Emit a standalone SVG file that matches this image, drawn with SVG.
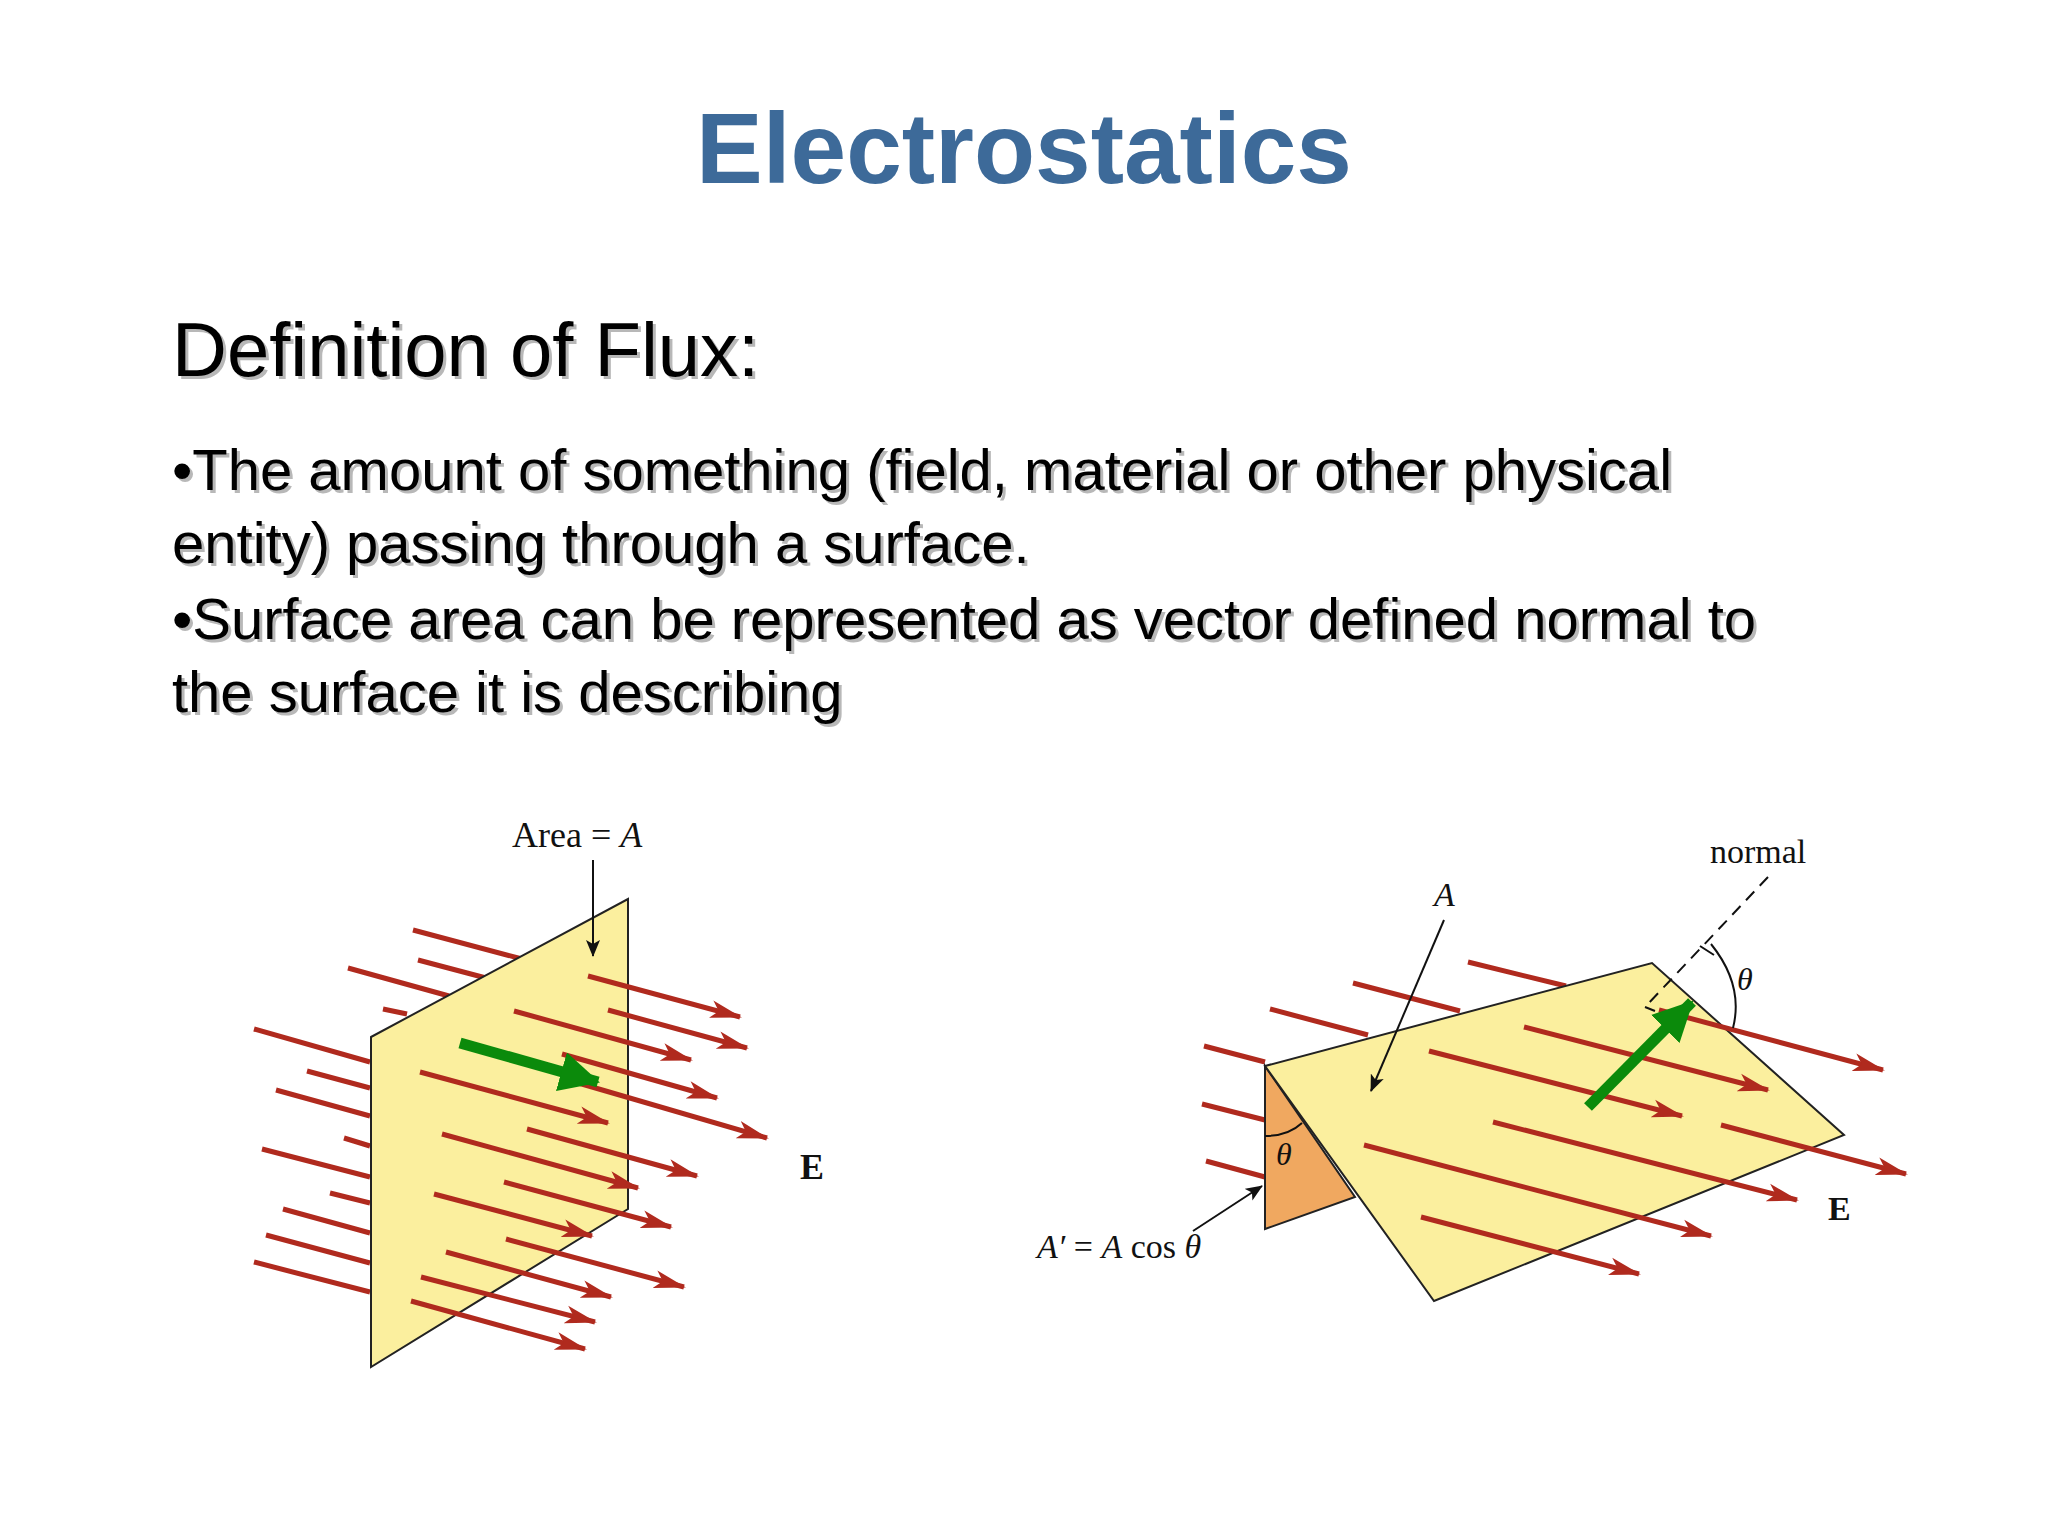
<svg xmlns="http://www.w3.org/2000/svg" width="2048" height="1536" viewBox="0 0 2048 1536">
<style>
.t{font-family:"Liberation Sans",Arial,sans-serif;fill:#000}
.sh{font-family:"Liberation Sans",Arial,sans-serif;fill:#b8b8b8}
.s{font-family:"Liberation Serif","Times New Roman",serif;fill:#111}
.r{stroke:#b02a1e;stroke-width:5;fill:none}
.ra{stroke:#b02a1e;stroke-width:5;fill:none;marker-end:url(#rh)}
.k{stroke:#111;stroke-width:2;fill:none}
.ka{stroke:#111;stroke-width:2;fill:none;marker-end:url(#kh)}
.g{stroke:#0b8a0b;stroke-width:11;fill:none;marker-end:url(#gh)}
.pl{fill:#fbef9e;stroke:#222;stroke-width:2}
</style>
<defs>
<marker id="rh" markerUnits="userSpaceOnUse" markerWidth="34" markerHeight="20" refX="30" refY="10" orient="auto"><path d="M0,1 L32,10 L0,19 L8,10 Z" fill="#b02a1e"/></marker>
<marker id="kh" markerUnits="userSpaceOnUse" markerWidth="18" markerHeight="14" refX="16" refY="7" orient="auto"><path d="M0,0 L17,7 L0,14 L4,7 Z" fill="#111"/></marker>
<marker id="gh" markerUnits="userSpaceOnUse" markerWidth="44" markerHeight="40" refX="38" refY="20" orient="auto"><path d="M0,0 L40,20 L0,40 Z" fill="#0b8a0b"/></marker>
</defs>
<rect width="2048" height="1536" fill="#fff"/>
<g id="title"><text x="1024" y="183" text-anchor="middle" font-family="Liberation Sans,Arial,sans-serif" font-weight="bold" font-size="100" fill="#3d6a99">Electrostatics</text></g>
<g id="text">
<text class="sh" x="175" y="379" font-size="76">Definition of Flux:</text>
<text class="t" x="172" y="376" font-size="76">Definition of Flux:</text>
<g font-size="58">
<text class="sh" x="175" y="493">•The amount of something (field, material or other physical</text>
<text class="sh" x="175" y="566">entity) passing through a surface.</text>
<text class="sh" x="175" y="642">•Surface area can be represented as vector defined normal to</text>
<text class="sh" x="175" y="715">the surface it is describing</text>
<text class="t" x="172" y="490">•The amount of something (field, material or other physical</text>
<text class="t" x="172" y="563">entity) passing through a surface.</text>
<text class="t" x="172" y="639">•Surface area can be represented as vector defined normal to</text>
<text class="t" x="172" y="712">the surface it is describing</text>
</g>
</g>
<g id="left-back">
<path class="r" d="M413,930L522,959M418,960L486,978M348,968L449,996M383,1009L407,1014M254,1029L370,1062M307,1071L370,1088M276,1090L370,1116M344,1138L370,1146M262,1149L370,1177M330,1193L370,1203M283,1209L370,1233M266,1235L370,1263M254,1262L370,1292"/>
</g>
<g id="left-plane"><polygon class="pl" points="371,1037 628,899 628,1209 371,1367"/></g>
<g id="left-front">
<path class="ra" d="M588,976L740,1017"/><path class="ra" d="M608,1010L747,1048"/><path class="ra" d="M514,1011L691,1060"/><path class="ra" d="M562,1054L717,1098"/><path class="ra" d="M420,1072L608,1123"/><path class="ra" d="M568,1080L767,1138"/><path class="ra" d="M442,1134L638,1188"/><path class="ra" d="M527,1129L697,1176"/><path class="ra" d="M504,1182L671,1227"/><path class="ra" d="M434,1194L592,1236"/><path class="ra" d="M506,1239L684,1287"/><path class="ra" d="M446,1252L611,1297"/><path class="ra" d="M421,1277L595,1322"/><path class="ra" d="M411,1301L585,1349"/>
<path class="g" d="M460,1043L598,1082"/>
<path class="ka" d="M593,860L593,956"/>
<text class="s" x="512" y="847" font-size="36">Area = <tspan font-style="italic">A</tspan></text>
<text class="s" x="800" y="1179" font-size="36" font-weight="bold">E</text>
</g>
<g id="right-back">
<path class="r" d="M1468,962L1566,986M1353,983L1460,1011M1270,1009L1368,1035M1204,1046L1265,1062M1202,1104L1265,1120M1206,1161L1265,1177"/>
</g>
<g id="right-shapes">
<polygon points="1265,1066 1265,1229 1355,1197" fill="#f0a860" stroke="#222" stroke-width="2"/>
<polygon class="pl" points="1265,1066 1652,963 1844,1135 1434,1301"/>
<path class="k" d="M1265,1136Q1288,1136 1302,1123"/>
<text class="s" x="1276" y="1165" font-size="32" font-style="italic">θ</text>
</g>
<g id="right-front">
<path class="ra" d="M1659,1010L1883,1070"/><path class="ra" d="M1524,1027L1768,1090"/><path class="ra" d="M1429,1051L1682,1116"/><path class="ra" d="M1493,1122L1797,1200"/><path class="ra" d="M1364,1145L1711,1236"/><path class="ra" d="M1421,1217L1639,1274"/><path class="ra" d="M1721,1125L1906,1174"/>
<path d="M1768,877L1645,1007" stroke="#111" stroke-width="2" stroke-dasharray="12,8" fill="none"/>
<path class="k" d="M1645,1007L1655,1011M1700,946L1714,955"/>
<path class="k" d="M1711,944Q1744,985 1733,1028"/>
<text class="s" x="1737" y="990" font-size="32" font-style="italic">θ</text>
<path class="g" d="M1588,1107L1692,1002"/>
<path class="ka" d="M1444,920L1371,1091"/>
<path class="ka" d="M1193,1231L1262,1186"/>
<text class="s" x="1434" y="906" font-size="34" font-style="italic">A</text>
<text class="s" x="1710" y="863" font-size="34">normal</text>
<text class="s" x="1037" y="1258" font-size="34"><tspan font-style="italic">A′</tspan> = <tspan font-style="italic">A</tspan> cos <tspan font-style="italic">θ</tspan></text>
<text class="s" x="1828" y="1220" font-size="34" font-weight="bold">E</text>
</g>
</svg>
